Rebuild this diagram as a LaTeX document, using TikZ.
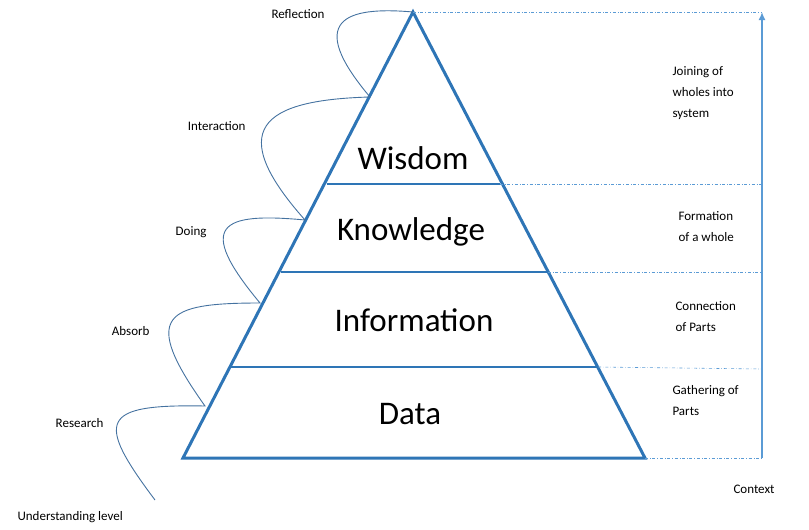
\documentclass[tikz,border=0pt]{standalone}
\usepackage{fontspec}
\usetikzlibrary{arrows.meta}
\setmainfont{Carlito}
\definecolor{pyr}{RGB}{46,117,182}
\definecolor{coil}{RGB}{68,114,160}
\definecolor{ctx}{RGB}{91,155,213}

\begin{document}
\begin{tikzpicture}[x=1pt,y=-1pt]
        \tikzset{lbl/.style={font=\fontsize{13}{21}\selectfont, align=left},
                 big/.style={font=\fontsize{33}{38}\selectfont},
                 guide/.style={ctx, dash dot, line width=0.6pt}}
        \useasboundingbox (0,0) rectangle (809,530);
        % pyramid
        \coordinate (apex) at (413,12);
        \coordinate (bl) at (183,458);
        \coordinate (br) at (645,458);
        \draw [pyr, line width=3pt, line join=miter] (apex) -- (br) -- (bl) -- cycle;
        \draw [pyr, line width=2pt] (231,367) -- (598,367);
        \draw [pyr, line width=2pt] (281,272) -- (548,272);
        \draw [pyr, line width=2pt] (327,184) -- (500,184);
        \node [big] (wis) at (413,158) {Wisdom};
        \node [big] (kno) at (411,232) {Knowledge};
        \node [big] (inf) at (414,320) {Information};
        \node [big] (dat) at (410,414) {Data};
        % coil
        \coordinate (c0) at (155,500);
        \coordinate (c1) at (205,406);
        \coordinate (c2) at (260,303);
        \coordinate (c3) at (305,220);
        \coordinate (c4) at (370,97);
        \coordinate (c5) at (413,12);
        \draw [coil, line width=0.9pt]
            (c0) .. controls (95,420) and (100,404) .. (c1)
                 .. controls (140,315) and (165,303) .. (c2)
                 .. controls (195,225) and (220,212) .. (c3)
                 .. controls (225,130) and (260,100) .. (c4)
                 .. controls (305,20) and (345,6) .. (c5);
        \node [lbl, anchor=west] (und) at (14,517) {Understanding level};
        \node [lbl, anchor=east] (res) at (107,423) {Research};
        \node [lbl, anchor=east] (abs) at (153,331) {Absorb};
        \node [lbl, anchor=east] (doi) at (210,232) {Doing};
        \node [lbl, anchor=east] (int) at (249,126) {Interaction};
        \node [lbl, anchor=east] (ref) at (328,14) {Reflection};
        % context guides
        \coordinate (t0) at (762,458);
        \coordinate (t5) at (762,12);
        \draw [guide] (apex) -- (t5);
        \draw [guide] (500,184) -- (762,184);
        \draw [guide] (548,272) -- (762,272);
        \draw [guide] (598,367) -- (762,369);
        \draw [guide] (br) -- (t0);
        \draw [ctx, line width=2pt, -{Latex[length=8pt,width=7pt]}] (t0) -- (t5);
        \node [lbl, align=left, anchor=west] (jw) at (669,93) {Joining of\\wholes into\\system};
        \node [lbl, anchor=west] (fw) at (675,227) {Formation\\of a whole};
        \node [lbl, anchor=west] (cp) at (672,317) {Connection\\of Parts};
        \node [lbl, anchor=west] (gp) at (669,401) {Gathering of\\Parts};
        \node [lbl, anchor=west] (con) at (730,489) {Context};
    \end{tikzpicture}
\end{document}
